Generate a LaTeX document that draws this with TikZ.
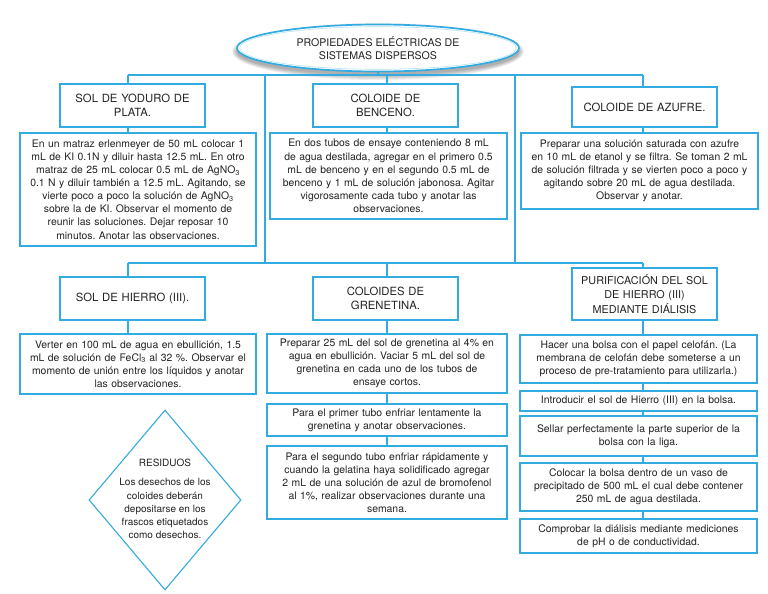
\documentclass[tikz,border=0pt]{standalone}
\usepackage{fontspec}
\setmainfont{TeX Gyre Heros}
\usetikzlibrary{shapes.geometric}
\definecolor{bl}{RGB}{50,172,224}
\definecolor{txt}{RGB}{35,35,35}
\tikzset{
  ln/.style={draw=bl, line width=1.1pt},
  hdr/.style={draw=bl, line width=1.1pt, fill=white, text=txt, align=center, inner sep=0pt,
    minimum width=145, text width=145, font=\fontsize{11.3}{14.5}\selectfont},
  det/.style={draw=bl, line width=1.1pt, fill=white, text=txt, align=center, inner sep=0pt,
    font=\fontsize{10.4}{13.1}\selectfont},
  ttl/.style={ellipse, draw=bl, line width=1.7pt, fill=white, text=txt, align=center, inner sep=0pt,
    minimum width=282, minimum height=47, font=\fontsize{10.6}{13.5}\selectfont}
}
\frenchspacing
\begin{document}
\begin{tikzpicture}[x=1pt,y=-1pt]
\useasboundingbox (0,0) rectangle (768,594);
\fill[white] (0,0) rectangle (768,594);
% title shadow
\foreach \i in {1,...,6}{
  \node[ellipse, fill=black, opacity=0.06, minimum width={280+2*\i}, minimum height={45+2*\i}, draw=none] at (378,51.5) {};
}
\node[ttl] (title) at (378,48) {PROPIEDADES ELÉCTRICAS DE\\SISTEMAS DISPERSOS};
\draw[draw=bl!35, line width=0.6pt] (378,48) ellipse [x radius=138.3, y radius=21.3];
% connector coordinates
\coordinate (tL) at (128,75);
\coordinate (tM) at (387,75);
\coordinate (tR) at (643,75);
\coordinate (tA) at (265,75);
\coordinate (tB) at (515,75);
\coordinate (bL) at (128,263);
\coordinate (bM) at (387,263);
\coordinate (bR) at (643,263);
\coordinate (bA) at (265,263);
\coordinate (bB) at (515,263);
% row 1 headers
\node[hdr, minimum height=43] (h1) at (132.5,105.5) {SOL DE YODURO DE\\PLATA.};
\node[hdr, minimum height=43] (h2) at (385.5,105.5) {COLOIDE DE\\BENCENO.};
\node[hdr, minimum height=40] (h3) at (644.5,107) {COLOIDE DE AZUFRE.};
% row 1 details
\node[det, minimum width=236, text width=236, minimum height=113] (d1) at (138,189.5)
 {En un matraz erlenmeyer de 50 mL colocar 1\\mL de KI 0.1N y diluir hasta 12.5 mL. En otro\\matraz de 25 mL colocar 0.5 mL de AgNO\textsubscript{3}\\0.1 N y diluir también a 12.5 mL. Agitando, se\\vierte poco a poco la solución de AgNO\textsubscript{3}\\sobre la de KI. Observar el momento de\\reunir las soluciones. Dejar reposar 10\\minutos. Anotar las observaciones.};
\node[det, minimum width=237, text width=237, minimum height=86] (d2) at (388.5,176)
 {En dos tubos de ensaye conteniendo 8 mL\\de agua destilada, agregar en el primero 0.5\\mL de benceno y en el segundo 0.5 mL de\\benceno y 1 mL de solución jabonosa. Agitar\\vigorosamente cada tubo y anotar las\\observaciones.};
\node[det, minimum width=237, text width=237, minimum height=76] (d3) at (639.5,171)
 {Preparar una solución saturada con azufre\\en 10 mL de etanol y se filtra. Se toman 2 mL\\de solución filtrada y se vierten poco a poco y\\agitando sobre 20 mL de agua destilada.\\Observar y anotar.};
% row 2 headers
\node[hdr, minimum height=43] (h4) at (132.5,298.5) {SOL DE HIERRO (III).};
\node[hdr, minimum height=43] (h5) at (385.5,298.5) {COLOIDES DE\\GRENETINA.};
\node[hdr, minimum height=52, font=\fontsize{10.8}{14.5}\selectfont] (h6) at (644.5,294) {PURIFICACIÓN DEL SOL\\DE HIERRO (III)\\MEDIANTE DIÁLISIS};
% row 2 details
\node[det, minimum width=236, text width=236, minimum height=60] (d4) at (138,364)
 {Verter en 100 mL de agua en ebullición, 1.5\\mL de solución de FeCl\textsubscript{3} al 32 \%. Observar el\\momento de unión entre los líquidos y anotar\\las observaciones.};
\node[det, minimum width=240, text width=240, minimum height=59] (d5a) at (387,363.5)
 {Preparar 25 mL del sol de grenetina al 4\% en\\agua en ebullición. Vaciar 5 mL del sol de\\grenetina en cada uno de los tubos de\\ensaye cortos.};
\node[det, minimum width=240, text width=240, minimum height=32] (d5b) at (387,420)
 {Para el primer tubo enfriar lentamente la\\grenetina y anotar observaciones.};
\node[det, minimum width=240, text width=240, minimum height=73] (d5c) at (387,482.5)
 {Para el segundo tubo enfriar rápidamente y\\cuando la gelatina haya solidificado agregar\\2 mL de una solución de azul de bromofenol\\al 1\%, realizar observaciones durante una\\semana.};
\node[det, minimum width=237, text width=237, minimum height=48] (d6a) at (638.5,359)
 {Hacer una bolsa con el papel celofán. (La\\membrana de celofán debe someterse a un\\proceso de pre-tratamiento para utilizarla.)};
\node[det, minimum width=237, text width=237, minimum height=20] (d6b) at (638.5,401)
 {Introducir el sol de Hierro (III) en la bolsa.};
\node[det, minimum width=237, text width=237, minimum height=40] (d6c) at (638.5,436)
 {Sellar perfectamente la parte superior de la\\bolsa con la liga.};
\node[det, minimum width=237, text width=237, minimum height=48] (d6d) at (638.5,487)
 {Colocar la bolsa dentro de un vaso de\\precipitado de 500 mL el cual debe contener\\250 mL de agua destilada.};
\node[det, minimum width=237, text width=237, minimum height=34] (d6e) at (638.5,536)
 {Comprobar la diálisis mediante mediciones\\de pH o de conductividad.};
% diamond
\node[diamond, draw=bl, line width=1.1pt, inner sep=0pt, minimum width=152, minimum height=180] (res) at (165,500) {};
\node[text=txt, align=center, inner sep=0pt, font=\fontsize{10}{13.2}\selectfont] (restxt) at (165,499)
 {RESIDUOS\\[6pt]Los desechos de los\\coloides deberán\\depositarse en los\\frascos etiquetados\\como desechos.};
% connectors
\draw[ln] (title.south) -- (title.south |- tM);
\draw[ln] (tL) -- (tR);
\draw[ln] (tL) -- (h1.north -| tL);
\draw[ln] (tM) -- (h2.north -| tM);
\draw[ln] (tR) -- (h3.north -| tR);
\draw[ln] (tA) -- (bA);
\draw[ln] (tB) -- (bB);
\draw[ln] (h1.south -| tL) -- (d1.north -| tL);
\draw[ln] (h2.south -| tM) -- (d2.north -| tM);
\draw[ln] (h3.south -| tR) -- (d3.north -| tR);
\draw[ln] (bL) -- (bR);
\draw[ln] (bL) -- (h4.north -| bL);
\draw[ln] (bM) -- (h5.north -| bM);
\draw[ln] (bR) -- (h6.north -| bR);
\draw[ln] (h4.south -| bL) -- (d4.north -| bL);
\draw[ln] (h5.south -| bM) -- (d5a.north -| bM);
\draw[ln] (d5a.south -| bM) -- (d5b.north -| bM);
\draw[ln] (d5b.south -| bM) -- (d5c.north -| bM);
\draw[ln] (h6.south -| bR) -- (d6a.north -| bR);
\draw[ln] (d6a.south -| bR) -- (d6b.north -| bR);
\draw[ln] (d6b.south -| bR) -- (d6c.north -| bR);
\draw[ln] (d6c.south -| bR) -- (d6d.north -| bR);
\draw[ln] (d6d.south -| bR) -- (d6e.north -| bR);
\end{tikzpicture}
\end{document}
